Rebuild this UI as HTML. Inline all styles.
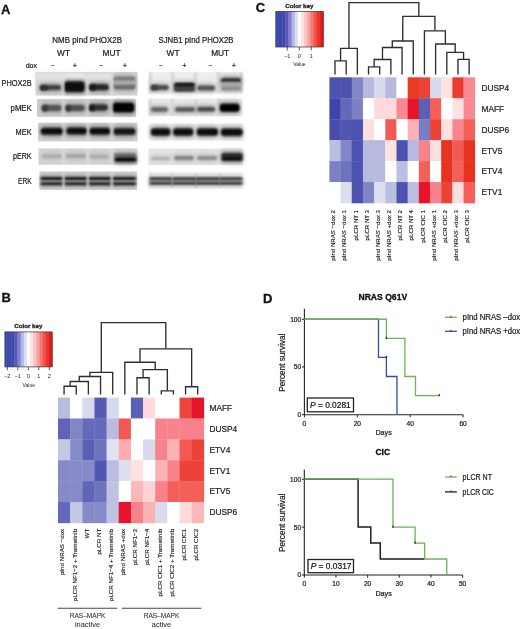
<!DOCTYPE html>
<html><head><meta charset="utf-8"><title>Figure</title>
<style>html,body{margin:0;padding:0;background:#fff;width:520px;height:629px;overflow:hidden}</style>
</head><body>
<svg width="520" height="629" viewBox="0 0 520 629" style="position:absolute;left:0;top:0">
<defs><filter id="bl1" x="-50%" y="-50%" width="200%" height="200%"><feGaussianBlur stdDeviation="1.1"/></filter><filter id="bl2" x="-50%" y="-50%" width="200%" height="200%"><feGaussianBlur stdDeviation="0.6"/></filter><filter id="bl3" x="-50%" y="-50%" width="200%" height="200%"><feGaussianBlur stdDeviation="0.95"/></filter><filter id="bl4" x="-50%" y="-50%" width="200%" height="200%"><feGaussianBlur stdDeviation="2"/></filter></defs>
<rect width="520" height="629" fill="#fff"/>
<g font-family='"Liberation Sans", Arial, sans-serif'>
<text x="0.90" y="13.75" font-size="13" text-anchor="start" font-weight="bold" font-style="normal" fill="#111" stroke="#111" stroke-width="0.3" >A</text>
<text x="87.20" y="42.70" font-size="8.3" text-anchor="middle" font-weight="normal" font-style="normal" fill="#222" stroke="#222" stroke-width="0.22" textLength="69.7" lengthAdjust="spacingAndGlyphs">NMB pInd PHOX2B</text>
<text x="63.50" y="55.80" font-size="8.3" text-anchor="middle" font-weight="normal" font-style="normal" fill="#222" stroke="#222" stroke-width="0.22" >WT</text>
<text x="111.50" y="55.80" font-size="8.3" text-anchor="middle" font-weight="normal" font-style="normal" fill="#222" stroke="#222" stroke-width="0.22" >MUT</text>
<text x="196.00" y="43.20" font-size="8.3" text-anchor="middle" font-weight="normal" font-style="normal" fill="#222" stroke="#222" stroke-width="0.22" textLength="75" lengthAdjust="spacingAndGlyphs">SJNB1 pInd PHOX2B</text>
<text x="173.00" y="56.10" font-size="8.3" text-anchor="middle" font-weight="normal" font-style="normal" fill="#222" stroke="#222" stroke-width="0.22" >WT</text>
<text x="220.20" y="56.10" font-size="8.3" text-anchor="middle" font-weight="normal" font-style="normal" fill="#222" stroke="#222" stroke-width="0.22" >MUT</text>
<text x="31.30" y="68.00" font-size="7.0" text-anchor="middle" font-weight="normal" font-style="normal" fill="#222" stroke="#222" stroke-width="0.22" >dox</text>
<text x="52.90" y="68.30" font-size="6.5" text-anchor="middle" font-weight="normal" font-style="normal" fill="#222" stroke="#222" stroke-width="0.22" >−</text>
<text x="75.00" y="68.30" font-size="6.5" text-anchor="middle" font-weight="normal" font-style="normal" fill="#222" stroke="#222" stroke-width="0.22" >+</text>
<text x="101.30" y="68.30" font-size="6.5" text-anchor="middle" font-weight="normal" font-style="normal" fill="#222" stroke="#222" stroke-width="0.22" >−</text>
<text x="124.80" y="68.30" font-size="6.5" text-anchor="middle" font-weight="normal" font-style="normal" fill="#222" stroke="#222" stroke-width="0.22" >+</text>
<text x="161.10" y="68.30" font-size="6.5" text-anchor="middle" font-weight="normal" font-style="normal" fill="#222" stroke="#222" stroke-width="0.22" >−</text>
<text x="184.50" y="68.30" font-size="6.5" text-anchor="middle" font-weight="normal" font-style="normal" fill="#222" stroke="#222" stroke-width="0.22" >+</text>
<text x="210.60" y="68.30" font-size="6.5" text-anchor="middle" font-weight="normal" font-style="normal" fill="#222" stroke="#222" stroke-width="0.22" >−</text>
<text x="233.90" y="68.30" font-size="6.5" text-anchor="middle" font-weight="normal" font-style="normal" fill="#222" stroke="#222" stroke-width="0.22" >+</text>
<text x="31.60" y="86.20" font-size="8.3" text-anchor="end" font-weight="normal" font-style="normal" fill="#222" stroke="#222" stroke-width="0.22" textLength="30" lengthAdjust="spacingAndGlyphs">PHOX2B</text>
<text x="31.60" y="111.00" font-size="8.3" text-anchor="end" font-weight="normal" font-style="normal" fill="#222" stroke="#222" stroke-width="0.22" textLength="21" lengthAdjust="spacingAndGlyphs">pMEK</text>
<text x="31.60" y="134.90" font-size="8.3" text-anchor="end" font-weight="normal" font-style="normal" fill="#222" stroke="#222" stroke-width="0.22" textLength="16" lengthAdjust="spacingAndGlyphs">MEK</text>
<text x="31.60" y="159.20" font-size="8.3" text-anchor="end" font-weight="normal" font-style="normal" fill="#222" stroke="#222" stroke-width="0.22" textLength="18.6" lengthAdjust="spacingAndGlyphs">pERK</text>
<text x="31.60" y="183.50" font-size="8.3" text-anchor="end" font-weight="normal" font-style="normal" fill="#222" stroke="#222" stroke-width="0.22" textLength="13.5" lengthAdjust="spacingAndGlyphs">ERK</text>
<rect x="35.5" y="72.0" width="102.0" height="23.5" fill="#d4d4d4"/>
<rect x="35.00" y="70.50" width="28.90" height="13.00" rx="3" fill="rgb(228,228,228)" fill-opacity="0.35" filter="url(#bl4)"/>
<rect x="35.50" y="73.00" width="27.90" height="8.00" rx="3.00" fill="rgb(228,228,228)" fill-opacity="0.8" filter="url(#bl1)"/>
<rect x="63.50" y="71.50" width="23.00" height="12.00" rx="3" fill="rgb(238,238,238)" fill-opacity="0.35" filter="url(#bl4)"/>
<rect x="64.00" y="74.00" width="22.00" height="7.00" rx="3.00" fill="rgb(238,238,238)" fill-opacity="0.9" filter="url(#bl1)"/>
<rect x="88.50" y="71.50" width="22.00" height="12.00" rx="3" fill="rgb(230,230,230)" fill-opacity="0.35" filter="url(#bl4)"/>
<rect x="89.00" y="74.00" width="21.00" height="7.00" rx="3.00" fill="rgb(230,230,230)" fill-opacity="0.8" filter="url(#bl1)"/>
<rect x="39.50" y="82.60" width="22.00" height="10.00" rx="3" fill="rgb(65,65,65)" fill-opacity="0.35" filter="url(#bl4)"/>
<rect x="40.00" y="85.10" width="21.00" height="5.00" rx="2.50" fill="rgb(65,65,65)" fill-opacity="1.0" filter="url(#bl3)"/>
<rect x="40.00" y="85.30" width="8.00" height="5.20" rx="2.60" fill="rgb(45,45,45)" fill-opacity="1.0" filter="url(#bl3)"/>
<rect x="64.00" y="79.05" width="21.00" height="15.50" rx="3" fill="rgb(8,8,8)" fill-opacity="0.35" filter="url(#bl4)"/>
<rect x="64.50" y="81.55" width="20.00" height="10.50" rx="3.00" fill="rgb(8,8,8)" fill-opacity="1.0" filter="url(#bl3)"/>
<rect x="88.50" y="81.70" width="20.80" height="11.00" rx="3" fill="rgb(40,40,40)" fill-opacity="0.35" filter="url(#bl4)"/>
<rect x="89.00" y="84.20" width="19.80" height="6.00" rx="3.00" fill="rgb(40,40,40)" fill-opacity="1.0" filter="url(#bl3)"/>
<rect x="89.00" y="84.40" width="7.00" height="6.20" rx="3.00" fill="rgb(28,28,28)" fill-opacity="1.0" filter="url(#bl3)"/>
<rect x="113.10" y="74.25" width="22.70" height="9.50" rx="3" fill="rgb(115,115,115)" fill-opacity="0.35" filter="url(#bl4)"/>
<rect x="113.60" y="76.75" width="21.70" height="4.50" rx="2.25" fill="rgb(115,115,115)" fill-opacity="1.0" filter="url(#bl3)"/>
<rect x="113.10" y="81.25" width="22.70" height="10.50" rx="3" fill="rgb(100,100,100)" fill-opacity="0.35" filter="url(#bl4)"/>
<rect x="113.60" y="83.75" width="21.70" height="5.50" rx="2.75" fill="rgb(100,100,100)" fill-opacity="1.0" filter="url(#bl3)"/>
<rect x="113.50" y="78.70" width="22.00" height="8.00" rx="3" fill="rgb(170,170,170)" fill-opacity="0.35" filter="url(#bl4)"/>
<rect x="114.00" y="81.20" width="21.00" height="3.00" rx="1.50" fill="rgb(170,170,170)" fill-opacity="1.0" filter="url(#bl1)"/>
<rect x="37.0" y="99.0" width="99.0" height="17.799999999999997" fill="#cecece"/>
<rect x="41.40" y="102.60" width="20.60" height="11.00" rx="3" fill="rgb(85,85,85)" fill-opacity="0.35" filter="url(#bl4)"/>
<rect x="41.90" y="105.10" width="19.60" height="6.00" rx="3.00" fill="rgb(85,85,85)" fill-opacity="1.0" filter="url(#bl3)"/>
<rect x="41.90" y="105.05" width="6.10" height="6.50" rx="3.00" fill="rgb(55,55,55)" fill-opacity="1.0" filter="url(#bl3)"/>
<rect x="65.20" y="102.50" width="20.00" height="11.00" rx="3" fill="rgb(80,80,80)" fill-opacity="0.35" filter="url(#bl4)"/>
<rect x="65.70" y="105.00" width="19.00" height="6.00" rx="3.00" fill="rgb(80,80,80)" fill-opacity="1.0" filter="url(#bl3)"/>
<rect x="65.70" y="105.05" width="5.30" height="6.50" rx="3.00" fill="rgb(55,55,55)" fill-opacity="1.0" filter="url(#bl3)"/>
<rect x="88.50" y="102.10" width="19.80" height="11.00" rx="3" fill="rgb(45,45,45)" fill-opacity="0.35" filter="url(#bl4)"/>
<rect x="89.00" y="104.60" width="18.80" height="6.00" rx="3.00" fill="rgb(45,45,45)" fill-opacity="1.0" filter="url(#bl3)"/>
<rect x="89.00" y="104.65" width="6.00" height="6.50" rx="3.00" fill="rgb(30,30,30)" fill-opacity="1.0" filter="url(#bl3)"/>
<rect x="112.20" y="100.35" width="22.50" height="14.50" rx="3" fill="rgb(5,5,5)" fill-opacity="0.35" filter="url(#bl4)"/>
<rect x="112.70" y="102.85" width="21.50" height="9.50" rx="3.00" fill="rgb(5,5,5)" fill-opacity="1.0" filter="url(#bl3)"/>
<rect x="38.0" y="122.7" width="99.5" height="18.700000000000003" fill="#d3d3d3"/>
<rect x="40.40" y="125.45" width="23.30" height="11.50" rx="3" fill="rgb(15,15,15)" fill-opacity="0.35" filter="url(#bl4)"/>
<rect x="40.90" y="127.95" width="22.30" height="6.50" rx="3.00" fill="rgb(15,15,15)" fill-opacity="1.0" filter="url(#bl3)"/>
<rect x="66.00" y="125.25" width="21.30" height="11.50" rx="3" fill="rgb(10,10,10)" fill-opacity="0.35" filter="url(#bl4)"/>
<rect x="66.50" y="127.75" width="20.30" height="6.50" rx="3.00" fill="rgb(10,10,10)" fill-opacity="1.0" filter="url(#bl3)"/>
<rect x="89.00" y="125.55" width="21.50" height="11.50" rx="3" fill="rgb(15,15,15)" fill-opacity="0.35" filter="url(#bl4)"/>
<rect x="89.50" y="128.05" width="20.50" height="6.50" rx="3.00" fill="rgb(15,15,15)" fill-opacity="1.0" filter="url(#bl3)"/>
<rect x="113.00" y="125.75" width="23.00" height="11.50" rx="3" fill="rgb(20,20,20)" fill-opacity="0.35" filter="url(#bl4)"/>
<rect x="113.50" y="128.25" width="22.00" height="6.50" rx="3.00" fill="rgb(20,20,20)" fill-opacity="1.0" filter="url(#bl3)"/>
<rect x="38.5" y="148.4" width="99.0" height="16.400000000000006" fill="#d5d5d5"/>
<rect x="41.00" y="151.95" width="21.50" height="8.50" rx="3" fill="rgb(170,170,170)" fill-opacity="0.35" filter="url(#bl4)"/>
<rect x="41.50" y="154.45" width="20.50" height="3.50" rx="1.75" fill="rgb(170,170,170)" fill-opacity="1.0" filter="url(#bl3)"/>
<rect x="65.00" y="151.75" width="21.50" height="8.50" rx="3" fill="rgb(160,160,160)" fill-opacity="0.35" filter="url(#bl4)"/>
<rect x="65.50" y="154.25" width="20.50" height="3.50" rx="1.75" fill="rgb(160,160,160)" fill-opacity="1.0" filter="url(#bl3)"/>
<rect x="89.00" y="152.15" width="20.50" height="8.50" rx="3" fill="rgb(170,170,170)" fill-opacity="0.35" filter="url(#bl4)"/>
<rect x="89.50" y="154.65" width="19.50" height="3.50" rx="1.75" fill="rgb(170,170,170)" fill-opacity="1.0" filter="url(#bl3)"/>
<rect x="113.50" y="151.00" width="23.00" height="8.00" rx="3" fill="rgb(120,120,120)" fill-opacity="0.35" filter="url(#bl4)"/>
<rect x="114.00" y="153.50" width="22.00" height="3.00" rx="1.50" fill="rgb(120,120,120)" fill-opacity="1.0" filter="url(#bl3)"/>
<rect x="114.00" y="154.85" width="23.00" height="9.50" rx="3" fill="rgb(15,15,15)" fill-opacity="0.35" filter="url(#bl4)"/>
<rect x="114.50" y="157.35" width="22.00" height="4.50" rx="2.25" fill="rgb(15,15,15)" fill-opacity="1.0" filter="url(#bl3)"/>
<rect x="39.5" y="171.5" width="97.5" height="18.30000000000001" fill="#cfcfcf"/>
<rect x="40.00" y="174.50" width="23.50" height="8.00" rx="3" fill="rgb(20,20,20)" fill-opacity="0.2" filter="url(#bl4)"/>
<rect x="40.50" y="177.00" width="22.50" height="3.00" rx="1.50" fill="rgb(20,20,20)" fill-opacity="1.0" filter="url(#bl3)"/>
<rect x="40.00" y="179.70" width="23.50" height="8.00" rx="3" fill="rgb(30,30,30)" fill-opacity="0.2" filter="url(#bl4)"/>
<rect x="40.50" y="182.20" width="22.50" height="3.00" rx="1.50" fill="rgb(30,30,30)" fill-opacity="1.0" filter="url(#bl3)"/>
<rect x="64.00" y="174.50" width="23.50" height="8.00" rx="3" fill="rgb(20,20,20)" fill-opacity="0.2" filter="url(#bl4)"/>
<rect x="64.50" y="177.00" width="22.50" height="3.00" rx="1.50" fill="rgb(20,20,20)" fill-opacity="1.0" filter="url(#bl3)"/>
<rect x="64.00" y="179.70" width="23.50" height="8.00" rx="3" fill="rgb(30,30,30)" fill-opacity="0.2" filter="url(#bl4)"/>
<rect x="64.50" y="182.20" width="22.50" height="3.00" rx="1.50" fill="rgb(30,30,30)" fill-opacity="1.0" filter="url(#bl3)"/>
<rect x="88.00" y="174.50" width="23.50" height="8.00" rx="3" fill="rgb(20,20,20)" fill-opacity="0.2" filter="url(#bl4)"/>
<rect x="88.50" y="177.00" width="22.50" height="3.00" rx="1.50" fill="rgb(20,20,20)" fill-opacity="1.0" filter="url(#bl3)"/>
<rect x="88.00" y="179.70" width="23.50" height="8.00" rx="3" fill="rgb(30,30,30)" fill-opacity="0.2" filter="url(#bl4)"/>
<rect x="88.50" y="182.20" width="22.50" height="3.00" rx="1.50" fill="rgb(30,30,30)" fill-opacity="1.0" filter="url(#bl3)"/>
<rect x="112.00" y="174.50" width="24.50" height="8.00" rx="3" fill="rgb(20,20,20)" fill-opacity="0.2" filter="url(#bl4)"/>
<rect x="112.50" y="177.00" width="23.50" height="3.00" rx="1.50" fill="rgb(20,20,20)" fill-opacity="1.0" filter="url(#bl3)"/>
<rect x="112.00" y="179.70" width="24.50" height="8.00" rx="3" fill="rgb(30,30,30)" fill-opacity="0.2" filter="url(#bl4)"/>
<rect x="112.50" y="182.20" width="23.50" height="3.00" rx="1.50" fill="rgb(30,30,30)" fill-opacity="1.0" filter="url(#bl3)"/>
<rect x="62.65" y="72.00" width="1.50" height="24.00" fill="rgb(240,240,240)" fill-opacity="0.6" filter="url(#bl1)"/>
<rect x="62.65" y="99.00" width="1.50" height="18.00" fill="rgb(240,240,240)" fill-opacity="0.5" filter="url(#bl1)"/>
<rect x="62.65" y="123.00" width="1.50" height="18.00" fill="rgb(235,235,235)" fill-opacity="0.6" filter="url(#bl1)"/>
<rect x="62.65" y="148.50" width="1.50" height="16.00" fill="rgb(240,240,240)" fill-opacity="0.5" filter="url(#bl1)"/>
<rect x="62.65" y="172.00" width="1.50" height="17.50" fill="rgb(235,235,235)" fill-opacity="0.6" filter="url(#bl1)"/>
<rect x="87.05" y="72.00" width="1.50" height="24.00" fill="rgb(240,240,240)" fill-opacity="0.6" filter="url(#bl1)"/>
<rect x="87.05" y="99.00" width="1.50" height="18.00" fill="rgb(240,240,240)" fill-opacity="0.5" filter="url(#bl1)"/>
<rect x="87.05" y="123.00" width="1.50" height="18.00" fill="rgb(235,235,235)" fill-opacity="0.6" filter="url(#bl1)"/>
<rect x="87.05" y="148.50" width="1.50" height="16.00" fill="rgb(240,240,240)" fill-opacity="0.5" filter="url(#bl1)"/>
<rect x="87.05" y="172.00" width="1.50" height="17.50" fill="rgb(235,235,235)" fill-opacity="0.6" filter="url(#bl1)"/>
<rect x="111.05" y="72.00" width="1.50" height="24.00" fill="rgb(240,240,240)" fill-opacity="0.6" filter="url(#bl1)"/>
<rect x="111.05" y="99.00" width="1.50" height="18.00" fill="rgb(240,240,240)" fill-opacity="0.5" filter="url(#bl1)"/>
<rect x="111.05" y="123.00" width="1.50" height="18.00" fill="rgb(235,235,235)" fill-opacity="0.6" filter="url(#bl1)"/>
<rect x="111.05" y="148.50" width="1.50" height="16.00" fill="rgb(240,240,240)" fill-opacity="0.5" filter="url(#bl1)"/>
<rect x="111.05" y="172.00" width="1.50" height="17.50" fill="rgb(235,235,235)" fill-opacity="0.6" filter="url(#bl1)"/>
<rect x="148.5" y="72.0" width="94.0" height="21.5" fill="#eeeeee"/>
<rect x="149.00" y="72.00" width="3.00" height="21.00" fill="rgb(185,185,185)" fill-opacity="0.45" filter="url(#bl1)"/>
<rect x="171.00" y="72.00" width="3.00" height="21.00" fill="rgb(185,185,185)" fill-opacity="0.45" filter="url(#bl1)"/>
<rect x="194.00" y="72.00" width="3.00" height="21.00" fill="rgb(185,185,185)" fill-opacity="0.45" filter="url(#bl1)"/>
<rect x="217.00" y="72.00" width="3.00" height="21.00" fill="rgb(185,185,185)" fill-opacity="0.45" filter="url(#bl1)"/>
<rect x="240.00" y="72.00" width="3.00" height="21.00" fill="rgb(185,185,185)" fill-opacity="0.45" filter="url(#bl1)"/>
<rect x="150.30" y="82.50" width="19.00" height="10.00" rx="3" fill="rgb(80,80,80)" fill-opacity="0.35" filter="url(#bl4)"/>
<rect x="150.80" y="85.00" width="18.00" height="5.00" rx="2.50" fill="rgb(80,80,80)" fill-opacity="1.0" filter="url(#bl3)"/>
<rect x="151.00" y="85.10" width="7.00" height="5.20" rx="2.60" fill="rgb(62,62,62)" fill-opacity="1.0" filter="url(#bl3)"/>
<rect x="173.60" y="80.80" width="21.60" height="13.00" rx="3" fill="rgb(70,70,70)" fill-opacity="0.35" filter="url(#bl4)"/>
<rect x="174.10" y="83.30" width="20.60" height="8.00" rx="3.00" fill="rgb(70,70,70)" fill-opacity="1.0" filter="url(#bl3)"/>
<rect x="174.10" y="83.05" width="20.60" height="3.50" rx="1.75" fill="rgb(25,25,25)" fill-opacity="1.0" filter="url(#bl3)"/>
<rect x="174.10" y="88.10" width="20.60" height="3.00" rx="1.50" fill="rgb(60,60,60)" fill-opacity="1.0" filter="url(#bl3)"/>
<rect x="196.60" y="83.00" width="19.00" height="10.00" rx="3" fill="rgb(85,85,85)" fill-opacity="0.35" filter="url(#bl4)"/>
<rect x="197.10" y="85.50" width="18.00" height="5.00" rx="2.50" fill="rgb(85,85,85)" fill-opacity="1.0" filter="url(#bl3)"/>
<rect x="220.40" y="75.85" width="21.10" height="9.50" rx="3" fill="rgb(30,30,30)" fill-opacity="0.35" filter="url(#bl4)"/>
<rect x="220.90" y="78.35" width="20.10" height="4.50" rx="2.25" fill="rgb(30,30,30)" fill-opacity="1.0" filter="url(#bl3)"/>
<rect x="220.40" y="83.30" width="21.10" height="10.00" rx="3" fill="rgb(140,140,140)" fill-opacity="0.35" filter="url(#bl4)"/>
<rect x="220.90" y="85.80" width="20.10" height="5.00" rx="2.50" fill="rgb(140,140,140)" fill-opacity="1.0" filter="url(#bl3)"/>
<rect x="220.50" y="80.30" width="21.00" height="8.00" rx="3" fill="rgb(165,165,165)" fill-opacity="0.35" filter="url(#bl4)"/>
<rect x="221.00" y="82.80" width="20.00" height="3.00" rx="1.50" fill="rgb(165,165,165)" fill-opacity="1.0" filter="url(#bl1)"/>
<rect x="148.5" y="98.5" width="94.0" height="17.5" fill="#e9e9e9"/>
<rect x="149.00" y="98.50" width="3.00" height="17.50" fill="rgb(195,195,195)" fill-opacity="0.45" filter="url(#bl1)"/>
<rect x="171.00" y="98.50" width="3.00" height="17.50" fill="rgb(195,195,195)" fill-opacity="0.45" filter="url(#bl1)"/>
<rect x="194.50" y="98.50" width="3.00" height="17.50" fill="rgb(195,195,195)" fill-opacity="0.45" filter="url(#bl1)"/>
<rect x="217.50" y="98.50" width="3.00" height="17.50" fill="rgb(195,195,195)" fill-opacity="0.45" filter="url(#bl1)"/>
<rect x="150.50" y="104.65" width="18.00" height="9.50" rx="3" fill="rgb(100,100,100)" fill-opacity="0.35" filter="url(#bl4)"/>
<rect x="151.00" y="107.15" width="17.00" height="4.50" rx="2.25" fill="rgb(100,100,100)" fill-opacity="1.0" filter="url(#bl3)"/>
<rect x="174.50" y="104.85" width="21.00" height="9.50" rx="3" fill="rgb(90,90,90)" fill-opacity="0.35" filter="url(#bl4)"/>
<rect x="175.00" y="107.35" width="20.00" height="4.50" rx="2.25" fill="rgb(90,90,90)" fill-opacity="1.0" filter="url(#bl3)"/>
<rect x="196.60" y="104.45" width="19.00" height="9.50" rx="3" fill="rgb(75,75,75)" fill-opacity="0.35" filter="url(#bl4)"/>
<rect x="197.10" y="106.95" width="18.00" height="4.50" rx="2.25" fill="rgb(75,75,75)" fill-opacity="1.0" filter="url(#bl3)"/>
<rect x="219.30" y="101.30" width="20.70" height="13.00" rx="3" fill="rgb(5,5,5)" fill-opacity="0.35" filter="url(#bl4)"/>
<rect x="219.80" y="103.80" width="19.70" height="8.00" rx="3.00" fill="rgb(5,5,5)" fill-opacity="1.0" filter="url(#bl3)"/>
<rect x="148.5" y="123.5" width="94.5" height="17.0" fill="#efefef"/>
<rect x="150.40" y="126.00" width="20.40" height="12.00" rx="3" fill="rgb(8,8,8)" fill-opacity="0.35" filter="url(#bl4)"/>
<rect x="150.90" y="128.50" width="19.40" height="7.00" rx="3.00" fill="rgb(8,8,8)" fill-opacity="1.0" filter="url(#bl3)"/>
<rect x="172.70" y="126.00" width="21.00" height="12.00" rx="3" fill="rgb(10,10,10)" fill-opacity="0.35" filter="url(#bl4)"/>
<rect x="173.20" y="128.50" width="20.00" height="7.00" rx="3.00" fill="rgb(10,10,10)" fill-opacity="1.0" filter="url(#bl3)"/>
<rect x="196.30" y="126.00" width="22.20" height="12.00" rx="3" fill="rgb(8,8,8)" fill-opacity="0.35" filter="url(#bl4)"/>
<rect x="196.80" y="128.50" width="21.20" height="7.00" rx="3.00" fill="rgb(8,8,8)" fill-opacity="1.0" filter="url(#bl3)"/>
<rect x="220.40" y="126.30" width="22.70" height="12.00" rx="3" fill="rgb(12,12,12)" fill-opacity="0.35" filter="url(#bl4)"/>
<rect x="220.90" y="128.80" width="21.70" height="7.00" rx="3.00" fill="rgb(12,12,12)" fill-opacity="1.0" filter="url(#bl3)"/>
<rect x="148.5" y="148.5" width="94.5" height="16.5" fill="#e4e4e4"/>
<rect x="150.50" y="154.60" width="20.00" height="8.00" rx="3" fill="rgb(175,175,175)" fill-opacity="0.35" filter="url(#bl4)"/>
<rect x="151.00" y="157.10" width="19.00" height="3.00" rx="1.50" fill="rgb(175,175,175)" fill-opacity="1.0" filter="url(#bl3)"/>
<rect x="173.50" y="153.75" width="21.00" height="8.50" rx="3" fill="rgb(125,125,125)" fill-opacity="0.35" filter="url(#bl4)"/>
<rect x="174.00" y="156.25" width="20.00" height="3.50" rx="1.75" fill="rgb(125,125,125)" fill-opacity="1.0" filter="url(#bl3)"/>
<rect x="196.50" y="153.75" width="21.00" height="8.50" rx="3" fill="rgb(135,135,135)" fill-opacity="0.35" filter="url(#bl4)"/>
<rect x="197.00" y="156.25" width="20.00" height="3.50" rx="1.75" fill="rgb(135,135,135)" fill-opacity="1.0" filter="url(#bl3)"/>
<rect x="221.00" y="150.75" width="22.10" height="8.50" rx="3" fill="rgb(45,45,45)" fill-opacity="0.35" filter="url(#bl4)"/>
<rect x="221.50" y="153.25" width="21.10" height="3.50" rx="1.75" fill="rgb(45,45,45)" fill-opacity="1.0" filter="url(#bl3)"/>
<rect x="221.00" y="153.75" width="22.10" height="9.50" rx="3" fill="rgb(10,10,10)" fill-opacity="0.35" filter="url(#bl4)"/>
<rect x="221.50" y="156.25" width="21.10" height="4.50" rx="2.25" fill="rgb(10,10,10)" fill-opacity="1.0" filter="url(#bl3)"/>
<rect x="148.5" y="172.5" width="94.5" height="15.5" fill="#f2f2f2"/>
<rect x="149.25" y="172.50" width="2.50" height="15.50" fill="rgb(205,205,205)" fill-opacity="0.4" filter="url(#bl1)"/>
<rect x="171.25" y="172.50" width="2.50" height="15.50" fill="rgb(205,205,205)" fill-opacity="0.4" filter="url(#bl1)"/>
<rect x="194.75" y="172.50" width="2.50" height="15.50" fill="rgb(205,205,205)" fill-opacity="0.4" filter="url(#bl1)"/>
<rect x="218.25" y="172.50" width="2.50" height="15.50" fill="rgb(205,205,205)" fill-opacity="0.4" filter="url(#bl1)"/>
<rect x="149.00" y="175.10" width="23.50" height="7.60" rx="3" fill="rgb(45,45,45)" fill-opacity="0.25" filter="url(#bl4)"/>
<rect x="149.50" y="177.60" width="22.50" height="2.60" rx="1.30" fill="rgb(45,45,45)" fill-opacity="1.0" filter="url(#bl3)"/>
<rect x="149.00" y="179.40" width="23.50" height="7.60" rx="3" fill="rgb(40,40,40)" fill-opacity="0.25" filter="url(#bl4)"/>
<rect x="149.50" y="181.90" width="22.50" height="2.60" rx="1.30" fill="rgb(40,40,40)" fill-opacity="1.0" filter="url(#bl3)"/>
<rect x="172.00" y="175.10" width="24.50" height="7.60" rx="3" fill="rgb(45,45,45)" fill-opacity="0.25" filter="url(#bl4)"/>
<rect x="172.50" y="177.60" width="23.50" height="2.60" rx="1.30" fill="rgb(45,45,45)" fill-opacity="1.0" filter="url(#bl3)"/>
<rect x="172.00" y="179.40" width="24.50" height="7.60" rx="3" fill="rgb(40,40,40)" fill-opacity="0.25" filter="url(#bl4)"/>
<rect x="172.50" y="181.90" width="23.50" height="2.60" rx="1.30" fill="rgb(40,40,40)" fill-opacity="1.0" filter="url(#bl3)"/>
<rect x="195.50" y="175.10" width="24.50" height="7.60" rx="3" fill="rgb(45,45,45)" fill-opacity="0.25" filter="url(#bl4)"/>
<rect x="196.00" y="177.60" width="23.50" height="2.60" rx="1.30" fill="rgb(45,45,45)" fill-opacity="1.0" filter="url(#bl3)"/>
<rect x="195.50" y="179.40" width="24.50" height="7.60" rx="3" fill="rgb(40,40,40)" fill-opacity="0.25" filter="url(#bl4)"/>
<rect x="196.00" y="181.90" width="23.50" height="2.60" rx="1.30" fill="rgb(40,40,40)" fill-opacity="1.0" filter="url(#bl3)"/>
<rect x="219.00" y="175.10" width="24.00" height="7.60" rx="3" fill="rgb(45,45,45)" fill-opacity="0.25" filter="url(#bl4)"/>
<rect x="219.50" y="177.60" width="23.00" height="2.60" rx="1.30" fill="rgb(45,45,45)" fill-opacity="1.0" filter="url(#bl3)"/>
<rect x="219.00" y="179.40" width="24.00" height="7.60" rx="3" fill="rgb(40,40,40)" fill-opacity="0.25" filter="url(#bl4)"/>
<rect x="219.50" y="181.90" width="23.00" height="2.60" rx="1.30" fill="rgb(40,40,40)" fill-opacity="1.0" filter="url(#bl3)"/>
<text x="255.80" y="12.30" font-size="13" text-anchor="start" font-weight="bold" font-style="normal" fill="#111" stroke="#111" stroke-width="0.3" >C</text>
<text x="299.30" y="7.70" font-size="6.2" text-anchor="middle" font-weight="bold" font-style="normal" fill="#222" stroke="#222" stroke-width="0.3" >Color key</text>
<rect x="275.80" y="11.50" width="3.56" height="35.50" fill="rgb(55, 80, 178)"/>
<rect x="278.96" y="11.50" width="3.56" height="35.50" fill="rgb(58, 74, 172)"/>
<rect x="282.12" y="11.50" width="3.56" height="35.50" fill="rgb(68, 72, 172)"/>
<rect x="285.28" y="11.50" width="3.56" height="35.50" fill="rgb(90, 88, 185)"/>
<rect x="288.44" y="11.50" width="3.56" height="35.50" fill="rgb(130, 130, 210)"/>
<rect x="291.60" y="11.50" width="3.56" height="35.50" fill="rgb(180, 182, 228)"/>
<rect x="294.76" y="11.50" width="3.56" height="35.50" fill="rgb(222, 222, 242)"/>
<rect x="297.92" y="11.50" width="3.56" height="35.50" fill="rgb(255, 255, 255)"/>
<rect x="301.08" y="11.50" width="3.56" height="35.50" fill="rgb(255, 225, 225)"/>
<rect x="304.24" y="11.50" width="3.56" height="35.50" fill="rgb(252, 195, 195)"/>
<rect x="307.40" y="11.50" width="3.56" height="35.50" fill="rgb(248, 160, 160)"/>
<rect x="310.56" y="11.50" width="3.56" height="35.50" fill="rgb(244, 120, 118)"/>
<rect x="313.72" y="11.50" width="3.56" height="35.50" fill="rgb(240, 85, 75)"/>
<rect x="316.88" y="11.50" width="3.56" height="35.50" fill="rgb(235, 52, 44)"/>
<rect x="320.04" y="11.50" width="3.56" height="35.50" fill="rgb(230, 25, 32)"/>
<rect x="275.80" y="11.50" width="47.40" height="35.50" fill="none" stroke="#333" stroke-width="0.7"/>
<line x1="287.30" y1="47.00" x2="287.30" y2="50.50" stroke="#333" stroke-width="0.8"/>
<text x="287.30" y="58.30" font-size="5.5" text-anchor="middle" font-weight="normal" font-style="normal" fill="#222" stroke="#222" stroke-width="0.0" >−1</text>
<line x1="299.30" y1="47.00" x2="299.30" y2="50.50" stroke="#333" stroke-width="0.8"/>
<text x="299.30" y="58.30" font-size="5.5" text-anchor="middle" font-weight="normal" font-style="normal" fill="#222" stroke="#222" stroke-width="0.0" >0</text>
<line x1="311.30" y1="47.00" x2="311.30" y2="50.50" stroke="#333" stroke-width="0.8"/>
<text x="311.30" y="58.30" font-size="5.5" text-anchor="middle" font-weight="normal" font-style="normal" fill="#222" stroke="#222" stroke-width="0.0" >1</text>
<text x="299.40" y="65.80" font-size="5.0" text-anchor="middle" font-weight="normal" font-style="normal" fill="#222" stroke="#222" stroke-width="0.0" >Value</text>
<rect x="329.40" y="77.30" width="11.48" height="21.25" fill="#4c52af"/>
<rect x="340.58" y="77.30" width="11.48" height="21.25" fill="#4c52af"/>
<rect x="351.76" y="77.30" width="11.48" height="21.25" fill="#8285c6"/>
<rect x="362.94" y="77.30" width="11.48" height="21.25" fill="#b7b9de"/>
<rect x="374.12" y="77.30" width="11.48" height="21.25" fill="#d8daee"/>
<rect x="385.30" y="77.30" width="11.48" height="21.25" fill="#b7b9de"/>
<rect x="396.48" y="77.30" width="11.48" height="21.25" fill="#ffffff"/>
<rect x="407.66" y="77.30" width="11.48" height="21.25" fill="#eb3a26"/>
<rect x="418.84" y="77.30" width="11.48" height="21.25" fill="#ec4238"/>
<rect x="430.02" y="77.30" width="11.48" height="21.25" fill="#d8daee"/>
<rect x="441.20" y="77.30" width="11.48" height="21.25" fill="#ffe1e1"/>
<rect x="452.38" y="77.30" width="11.48" height="21.25" fill="#ea3c31"/>
<rect x="463.56" y="77.30" width="11.48" height="21.25" fill="#f88992"/>
<rect x="329.40" y="98.25" width="11.48" height="21.25" fill="#3e44a8"/>
<rect x="340.58" y="98.25" width="11.48" height="21.25" fill="#6569b9"/>
<rect x="351.76" y="98.25" width="11.48" height="21.25" fill="#7d81c4"/>
<rect x="362.94" y="98.25" width="11.48" height="21.25" fill="#ffffff"/>
<rect x="374.12" y="98.25" width="11.48" height="21.25" fill="#fedada"/>
<rect x="385.30" y="98.25" width="11.48" height="21.25" fill="#fedada"/>
<rect x="396.48" y="98.25" width="11.48" height="21.25" fill="#f88992"/>
<rect x="407.66" y="98.25" width="11.48" height="21.25" fill="#e61428"/>
<rect x="418.84" y="98.25" width="11.48" height="21.25" fill="#5b60b5"/>
<rect x="430.02" y="98.25" width="11.48" height="21.25" fill="#f45f58"/>
<rect x="441.20" y="98.25" width="11.48" height="21.25" fill="#ffffff"/>
<rect x="452.38" y="98.25" width="11.48" height="21.25" fill="#ffe1e1"/>
<rect x="463.56" y="98.25" width="11.48" height="21.25" fill="#f88992"/>
<rect x="329.40" y="119.20" width="11.48" height="21.25" fill="#484dac"/>
<rect x="340.58" y="119.20" width="11.48" height="21.25" fill="#5157b1"/>
<rect x="351.76" y="119.20" width="11.48" height="21.25" fill="#4c52af"/>
<rect x="362.94" y="119.20" width="11.48" height="21.25" fill="#ffdede"/>
<rect x="374.12" y="119.20" width="11.48" height="21.25" fill="#ffffff"/>
<rect x="385.30" y="119.20" width="11.48" height="21.25" fill="#f25952"/>
<rect x="396.48" y="119.20" width="11.48" height="21.25" fill="#ffffff"/>
<rect x="407.66" y="119.20" width="11.48" height="21.25" fill="#fbb2b4"/>
<rect x="418.84" y="119.20" width="11.48" height="21.25" fill="#787cc2"/>
<rect x="430.02" y="119.20" width="11.48" height="21.25" fill="#ec4238"/>
<rect x="441.20" y="119.20" width="11.48" height="21.25" fill="#ffe1e1"/>
<rect x="452.38" y="119.20" width="11.48" height="21.25" fill="#f7858e"/>
<rect x="463.56" y="119.20" width="11.48" height="21.25" fill="#f45f58"/>
<rect x="329.40" y="140.15" width="11.48" height="21.25" fill="#bbbee1"/>
<rect x="340.58" y="140.15" width="11.48" height="21.25" fill="#8285c6"/>
<rect x="351.76" y="140.15" width="11.48" height="21.25" fill="#4c52af"/>
<rect x="362.94" y="140.15" width="11.48" height="21.25" fill="#b7b9de"/>
<rect x="374.12" y="140.15" width="11.48" height="21.25" fill="#b7b9de"/>
<rect x="385.30" y="140.15" width="11.48" height="21.25" fill="#ffe1e1"/>
<rect x="396.48" y="140.15" width="11.48" height="21.25" fill="#4c52af"/>
<rect x="407.66" y="140.15" width="11.48" height="21.25" fill="#b7b9de"/>
<rect x="418.84" y="140.15" width="11.48" height="21.25" fill="#f7828c"/>
<rect x="430.02" y="140.15" width="11.48" height="21.25" fill="#ffdede"/>
<rect x="441.20" y="140.15" width="11.48" height="21.25" fill="#e6321e"/>
<rect x="452.38" y="140.15" width="11.48" height="21.25" fill="#f25952"/>
<rect x="463.56" y="140.15" width="11.48" height="21.25" fill="#e6321e"/>
<rect x="329.40" y="161.10" width="11.48" height="21.25" fill="#7d81c4"/>
<rect x="340.58" y="161.10" width="11.48" height="21.25" fill="#6e73be"/>
<rect x="351.76" y="161.10" width="11.48" height="21.25" fill="#4c52af"/>
<rect x="362.94" y="161.10" width="11.48" height="21.25" fill="#b7b9de"/>
<rect x="374.12" y="161.10" width="11.48" height="21.25" fill="#b7b9de"/>
<rect x="385.30" y="161.10" width="11.48" height="21.25" fill="#ffffff"/>
<rect x="396.48" y="161.10" width="11.48" height="21.25" fill="#bbbee1"/>
<rect x="407.66" y="161.10" width="11.48" height="21.25" fill="#ffffff"/>
<rect x="418.84" y="161.10" width="11.48" height="21.25" fill="#f45f58"/>
<rect x="430.02" y="161.10" width="11.48" height="21.25" fill="#ffffff"/>
<rect x="441.20" y="161.10" width="11.48" height="21.25" fill="#e6321e"/>
<rect x="452.38" y="161.10" width="11.48" height="21.25" fill="#f45f58"/>
<rect x="463.56" y="161.10" width="11.48" height="21.25" fill="#e6321e"/>
<rect x="329.40" y="182.05" width="11.48" height="21.25" fill="#ffffff"/>
<rect x="340.58" y="182.05" width="11.48" height="21.25" fill="#dddef0"/>
<rect x="351.76" y="182.05" width="11.48" height="21.25" fill="#4c52af"/>
<rect x="362.94" y="182.05" width="11.48" height="21.25" fill="#8285c6"/>
<rect x="374.12" y="182.05" width="11.48" height="21.25" fill="#dddef0"/>
<rect x="385.30" y="182.05" width="11.48" height="21.25" fill="#bbbee1"/>
<rect x="396.48" y="182.05" width="11.48" height="21.25" fill="#4c52af"/>
<rect x="407.66" y="182.05" width="11.48" height="21.25" fill="#bbbee1"/>
<rect x="418.84" y="182.05" width="11.48" height="21.25" fill="#e61428"/>
<rect x="430.02" y="182.05" width="11.48" height="21.25" fill="#f7828c"/>
<rect x="441.20" y="182.05" width="11.48" height="21.25" fill="#ec4238"/>
<rect x="452.38" y="182.05" width="11.48" height="21.25" fill="#ffdede"/>
<rect x="463.56" y="182.05" width="11.48" height="21.25" fill="#f45f58"/>
<polyline points="334.99,74.60 334.99,60.80 346.17,60.80 346.17,74.60" fill="none" stroke="#2e2e2e" stroke-width="1.35" stroke-linejoin="miter"/>
<polyline points="340.58,60.80 340.58,48.30 357.35,48.30 357.35,74.60" fill="none" stroke="#2e2e2e" stroke-width="1.35" stroke-linejoin="miter"/>
<polyline points="368.53,74.60 368.53,66.90 379.71,66.90 379.71,74.60" fill="none" stroke="#2e2e2e" stroke-width="1.35" stroke-linejoin="miter"/>
<polyline points="374.12,66.90 374.12,59.50 390.89,59.50 390.89,74.60" fill="none" stroke="#2e2e2e" stroke-width="1.35" stroke-linejoin="miter"/>
<polyline points="382.50,59.50 382.50,47.50 402.07,47.50 402.07,74.60" fill="none" stroke="#2e2e2e" stroke-width="1.35" stroke-linejoin="miter"/>
<polyline points="392.29,47.50 392.29,41.00 413.25,41.00 413.25,74.60" fill="none" stroke="#2e2e2e" stroke-width="1.35" stroke-linejoin="miter"/>
<polyline points="457.97,74.60 457.97,59.40 469.15,59.40 469.15,74.60" fill="none" stroke="#2e2e2e" stroke-width="1.35" stroke-linejoin="miter"/>
<polyline points="446.79,74.60 446.79,52.30 463.56,52.30 463.56,59.40" fill="none" stroke="#2e2e2e" stroke-width="1.35" stroke-linejoin="miter"/>
<polyline points="435.61,74.60 435.61,44.00 455.17,44.00 455.17,52.30" fill="none" stroke="#2e2e2e" stroke-width="1.35" stroke-linejoin="miter"/>
<polyline points="424.43,74.60 424.43,30.80 445.39,30.80 445.39,44.00" fill="none" stroke="#2e2e2e" stroke-width="1.35" stroke-linejoin="miter"/>
<polyline points="402.77,41.00 402.77,16.40 434.91,16.40 434.91,30.80" fill="none" stroke="#2e2e2e" stroke-width="1.35" stroke-linejoin="miter"/>
<polyline points="348.96,48.30 348.96,2.60 418.84,2.60 418.84,16.40" fill="none" stroke="#2e2e2e" stroke-width="1.35" stroke-linejoin="miter"/>
<text x="481.50" y="90.67" font-size="8.3" text-anchor="start" font-weight="normal" font-style="normal" fill="#222" stroke="#222" stroke-width="0.22" >DUSP4</text>
<text x="481.50" y="111.62" font-size="8.3" text-anchor="start" font-weight="normal" font-style="normal" fill="#222" stroke="#222" stroke-width="0.22" >MAFF</text>
<text x="481.50" y="132.58" font-size="8.3" text-anchor="start" font-weight="normal" font-style="normal" fill="#222" stroke="#222" stroke-width="0.22" >DUSP6</text>
<text x="481.50" y="153.53" font-size="8.3" text-anchor="start" font-weight="normal" font-style="normal" fill="#222" stroke="#222" stroke-width="0.22" >ETV5</text>
<text x="481.50" y="174.47" font-size="8.3" text-anchor="start" font-weight="normal" font-style="normal" fill="#222" stroke="#222" stroke-width="0.22" >ETV4</text>
<text x="481.50" y="195.42" font-size="8.3" text-anchor="start" font-weight="normal" font-style="normal" fill="#222" stroke="#222" stroke-width="0.22" >ETV1</text>
<text x="335.19" y="210.00" font-size="6.1" text-anchor="end" font-weight="normal" font-style="normal" fill="#222" stroke="#222" stroke-width="0.14" transform="rotate(-90 335.19 210.00)" >pInd NRAS −dox 2</text>
<text x="346.37" y="210.00" font-size="6.1" text-anchor="end" font-weight="normal" font-style="normal" fill="#222" stroke="#222" stroke-width="0.14" transform="rotate(-90 346.37 210.00)" >pInd NRAS −dox 1</text>
<text x="357.55" y="210.00" font-size="6.1" text-anchor="end" font-weight="normal" font-style="normal" fill="#222" stroke="#222" stroke-width="0.14" transform="rotate(-90 357.55 210.00)" >pLCR NT 1</text>
<text x="368.73" y="210.00" font-size="6.1" text-anchor="end" font-weight="normal" font-style="normal" fill="#222" stroke="#222" stroke-width="0.14" transform="rotate(-90 368.73 210.00)" >pLCR NT 3</text>
<text x="379.91" y="210.00" font-size="6.1" text-anchor="end" font-weight="normal" font-style="normal" fill="#222" stroke="#222" stroke-width="0.14" transform="rotate(-90 379.91 210.00)" >pInd NRAS −dox 3</text>
<text x="391.09" y="210.00" font-size="6.1" text-anchor="end" font-weight="normal" font-style="normal" fill="#222" stroke="#222" stroke-width="0.14" transform="rotate(-90 391.09 210.00)" >pInd NRAS +dox 2</text>
<text x="402.27" y="210.00" font-size="6.1" text-anchor="end" font-weight="normal" font-style="normal" fill="#222" stroke="#222" stroke-width="0.14" transform="rotate(-90 402.27 210.00)" >pLCR NT 2</text>
<text x="413.45" y="210.00" font-size="6.1" text-anchor="end" font-weight="normal" font-style="normal" fill="#222" stroke="#222" stroke-width="0.14" transform="rotate(-90 413.45 210.00)" >pLCR NT 4</text>
<text x="424.63" y="210.00" font-size="6.1" text-anchor="end" font-weight="normal" font-style="normal" fill="#222" stroke="#222" stroke-width="0.14" transform="rotate(-90 424.63 210.00)" >pLCR CIC 1</text>
<text x="435.81" y="210.00" font-size="6.1" text-anchor="end" font-weight="normal" font-style="normal" fill="#222" stroke="#222" stroke-width="0.14" transform="rotate(-90 435.81 210.00)" >pInd NRAS +dox 1</text>
<text x="446.99" y="210.00" font-size="6.1" text-anchor="end" font-weight="normal" font-style="normal" fill="#222" stroke="#222" stroke-width="0.14" transform="rotate(-90 446.99 210.00)" >pLCR CIC 2</text>
<text x="458.17" y="210.00" font-size="6.1" text-anchor="end" font-weight="normal" font-style="normal" fill="#222" stroke="#222" stroke-width="0.14" transform="rotate(-90 458.17 210.00)" >pInd NRAS +dox 3</text>
<text x="469.35" y="210.00" font-size="6.1" text-anchor="end" font-weight="normal" font-style="normal" fill="#222" stroke="#222" stroke-width="0.14" transform="rotate(-90 469.35 210.00)" >pLCR CIC 3</text>
<text x="1.60" y="301.90" font-size="13" text-anchor="start" font-weight="bold" font-style="normal" fill="#111" stroke="#111" stroke-width="0.3" >B</text>
<text x="28.30" y="328.20" font-size="6.2" text-anchor="middle" font-weight="bold" font-style="normal" fill="#222" stroke="#222" stroke-width="0.3" >Color key</text>
<rect x="4.90" y="331.90" width="3.55" height="35.00" fill="rgb(55, 80, 178)"/>
<rect x="8.05" y="331.90" width="3.55" height="35.00" fill="rgb(58, 74, 172)"/>
<rect x="11.19" y="331.90" width="3.55" height="35.00" fill="rgb(68, 72, 172)"/>
<rect x="14.34" y="331.90" width="3.55" height="35.00" fill="rgb(90, 88, 185)"/>
<rect x="17.49" y="331.90" width="3.55" height="35.00" fill="rgb(130, 130, 210)"/>
<rect x="20.63" y="331.90" width="3.55" height="35.00" fill="rgb(180, 182, 228)"/>
<rect x="23.78" y="331.90" width="3.55" height="35.00" fill="rgb(222, 222, 242)"/>
<rect x="26.93" y="331.90" width="3.55" height="35.00" fill="rgb(255, 255, 255)"/>
<rect x="30.07" y="331.90" width="3.55" height="35.00" fill="rgb(255, 225, 225)"/>
<rect x="33.22" y="331.90" width="3.55" height="35.00" fill="rgb(252, 195, 195)"/>
<rect x="36.37" y="331.90" width="3.55" height="35.00" fill="rgb(248, 160, 160)"/>
<rect x="39.51" y="331.90" width="3.55" height="35.00" fill="rgb(244, 120, 118)"/>
<rect x="42.66" y="331.90" width="3.55" height="35.00" fill="rgb(240, 85, 75)"/>
<rect x="45.81" y="331.90" width="3.55" height="35.00" fill="rgb(235, 52, 44)"/>
<rect x="48.95" y="331.90" width="3.55" height="35.00" fill="rgb(230, 25, 32)"/>
<rect x="4.90" y="331.90" width="47.20" height="35.00" fill="none" stroke="#333" stroke-width="0.7"/>
<line x1="7.30" y1="366.90" x2="7.30" y2="370.30" stroke="#333" stroke-width="0.8"/>
<text x="7.30" y="378.40" font-size="5.5" text-anchor="middle" font-weight="normal" font-style="normal" fill="#222" stroke="#222" stroke-width="0.0" >−2</text>
<line x1="17.80" y1="366.90" x2="17.80" y2="370.30" stroke="#333" stroke-width="0.8"/>
<text x="17.80" y="378.40" font-size="5.5" text-anchor="middle" font-weight="normal" font-style="normal" fill="#222" stroke="#222" stroke-width="0.0" >−1</text>
<line x1="28.30" y1="366.90" x2="28.30" y2="370.30" stroke="#333" stroke-width="0.8"/>
<text x="28.30" y="378.40" font-size="5.5" text-anchor="middle" font-weight="normal" font-style="normal" fill="#222" stroke="#222" stroke-width="0.0" >0</text>
<line x1="38.80" y1="366.90" x2="38.80" y2="370.30" stroke="#333" stroke-width="0.8"/>
<text x="38.80" y="378.40" font-size="5.5" text-anchor="middle" font-weight="normal" font-style="normal" fill="#222" stroke="#222" stroke-width="0.0" >1</text>
<line x1="49.30" y1="366.90" x2="49.30" y2="370.30" stroke="#333" stroke-width="0.8"/>
<text x="49.30" y="378.40" font-size="5.5" text-anchor="middle" font-weight="normal" font-style="normal" fill="#222" stroke="#222" stroke-width="0.0" >2</text>
<text x="28.80" y="386.80" font-size="5.0" text-anchor="middle" font-weight="normal" font-style="normal" fill="#222" stroke="#222" stroke-width="0.0" >Value</text>
<rect x="58.00" y="397.60" width="12.45" height="21.18" fill="#b9bbdf"/>
<rect x="70.15" y="397.60" width="12.45" height="21.18" fill="#ffffff"/>
<rect x="82.30" y="397.60" width="12.45" height="21.18" fill="#d7d9ed"/>
<rect x="94.45" y="397.60" width="12.45" height="21.18" fill="#555ab2"/>
<rect x="106.60" y="397.60" width="12.45" height="21.18" fill="#d7d9ed"/>
<rect x="118.75" y="397.60" width="12.45" height="21.18" fill="#ffffff"/>
<rect x="130.90" y="397.60" width="12.45" height="21.18" fill="#5b60b5"/>
<rect x="143.05" y="397.60" width="12.45" height="21.18" fill="#fedada"/>
<rect x="155.20" y="397.60" width="12.45" height="21.18" fill="#ffffff"/>
<rect x="167.35" y="397.60" width="12.45" height="21.18" fill="#ffffff"/>
<rect x="179.50" y="397.60" width="12.45" height="21.18" fill="#ed453c"/>
<rect x="191.65" y="397.60" width="12.45" height="21.18" fill="#e61428"/>
<rect x="58.00" y="418.48" width="12.45" height="21.18" fill="#5f64b7"/>
<rect x="70.15" y="418.48" width="12.45" height="21.18" fill="#8285c6"/>
<rect x="82.30" y="418.48" width="12.45" height="21.18" fill="#6569b9"/>
<rect x="94.45" y="418.48" width="12.45" height="21.18" fill="#6569b9"/>
<rect x="106.60" y="418.48" width="12.45" height="21.18" fill="#b9bbdf"/>
<rect x="118.75" y="418.48" width="12.45" height="21.18" fill="#f25952"/>
<rect x="130.90" y="418.48" width="12.45" height="21.18" fill="#ffffff"/>
<rect x="143.05" y="418.48" width="12.45" height="21.18" fill="#ffffff"/>
<rect x="155.20" y="418.48" width="12.45" height="21.18" fill="#f7828c"/>
<rect x="167.35" y="418.48" width="12.45" height="21.18" fill="#f7828c"/>
<rect x="179.50" y="418.48" width="12.45" height="21.18" fill="#f7828c"/>
<rect x="191.65" y="418.48" width="12.45" height="21.18" fill="#f7828c"/>
<rect x="58.00" y="439.36" width="12.45" height="21.18" fill="#c5c7e5"/>
<rect x="70.15" y="439.36" width="12.45" height="21.18" fill="#868ac9"/>
<rect x="82.30" y="439.36" width="12.45" height="21.18" fill="#5b60b5"/>
<rect x="94.45" y="439.36" width="12.45" height="21.18" fill="#6e73be"/>
<rect x="106.60" y="439.36" width="12.45" height="21.18" fill="#e2e3f2"/>
<rect x="118.75" y="439.36" width="12.45" height="21.18" fill="#faacaf"/>
<rect x="130.90" y="439.36" width="12.45" height="21.18" fill="#ffffff"/>
<rect x="143.05" y="439.36" width="12.45" height="21.18" fill="#d8daee"/>
<rect x="155.20" y="439.36" width="12.45" height="21.18" fill="#f7828c"/>
<rect x="167.35" y="439.36" width="12.45" height="21.18" fill="#fbb2b4"/>
<rect x="179.50" y="439.36" width="12.45" height="21.18" fill="#f25952"/>
<rect x="191.65" y="439.36" width="12.45" height="21.18" fill="#ec4238"/>
<rect x="58.00" y="460.24" width="12.45" height="21.18" fill="#868ac9"/>
<rect x="70.15" y="460.24" width="12.45" height="21.18" fill="#868ac9"/>
<rect x="82.30" y="460.24" width="12.45" height="21.18" fill="#868ac9"/>
<rect x="94.45" y="460.24" width="12.45" height="21.18" fill="#5157b1"/>
<rect x="106.60" y="460.24" width="12.45" height="21.18" fill="#bbbee1"/>
<rect x="118.75" y="460.24" width="12.45" height="21.18" fill="#dddef0"/>
<rect x="130.90" y="460.24" width="12.45" height="21.18" fill="#ffe1e1"/>
<rect x="143.05" y="460.24" width="12.45" height="21.18" fill="#ffffff"/>
<rect x="155.20" y="460.24" width="12.45" height="21.18" fill="#fbb2b4"/>
<rect x="167.35" y="460.24" width="12.45" height="21.18" fill="#f7828c"/>
<rect x="179.50" y="460.24" width="12.45" height="21.18" fill="#ec4238"/>
<rect x="191.65" y="460.24" width="12.45" height="21.18" fill="#ec4238"/>
<rect x="58.00" y="481.12" width="12.45" height="21.18" fill="#868ac9"/>
<rect x="70.15" y="481.12" width="12.45" height="21.18" fill="#868ac9"/>
<rect x="82.30" y="481.12" width="12.45" height="21.18" fill="#6065b7"/>
<rect x="94.45" y="481.12" width="12.45" height="21.18" fill="#6e73be"/>
<rect x="106.60" y="481.12" width="12.45" height="21.18" fill="#c0c2e3"/>
<rect x="118.75" y="481.12" width="12.45" height="21.18" fill="#ffffff"/>
<rect x="130.90" y="481.12" width="12.45" height="21.18" fill="#fcb8b9"/>
<rect x="143.05" y="481.12" width="12.45" height="21.18" fill="#fed5d5"/>
<rect x="155.20" y="481.12" width="12.45" height="21.18" fill="#f7828c"/>
<rect x="167.35" y="481.12" width="12.45" height="21.18" fill="#f45f58"/>
<rect x="179.50" y="481.12" width="12.45" height="21.18" fill="#f45f58"/>
<rect x="191.65" y="481.12" width="12.45" height="21.18" fill="#f45f58"/>
<rect x="58.00" y="502.00" width="12.45" height="21.18" fill="#6569b9"/>
<rect x="70.15" y="502.00" width="12.45" height="21.18" fill="#c5c7e5"/>
<rect x="82.30" y="502.00" width="12.45" height="21.18" fill="#868ac9"/>
<rect x="94.45" y="502.00" width="12.45" height="21.18" fill="#868ac9"/>
<rect x="106.60" y="502.00" width="12.45" height="21.18" fill="#c0c2e3"/>
<rect x="118.75" y="502.00" width="12.45" height="21.18" fill="#e61428"/>
<rect x="130.90" y="502.00" width="12.45" height="21.18" fill="#f7828c"/>
<rect x="143.05" y="502.00" width="12.45" height="21.18" fill="#fbb2b4"/>
<rect x="155.20" y="502.00" width="12.45" height="21.18" fill="#d8daee"/>
<rect x="167.35" y="502.00" width="12.45" height="21.18" fill="#ffffff"/>
<rect x="179.50" y="502.00" width="12.45" height="21.18" fill="#fedada"/>
<rect x="191.65" y="502.00" width="12.45" height="21.18" fill="#fcb8b9"/>
<polyline points="64.08,394.60 64.08,386.20 76.22,386.20 76.22,394.60" fill="none" stroke="#2e2e2e" stroke-width="1.35" stroke-linejoin="miter"/>
<polyline points="70.15,386.20 70.15,381.50 88.38,381.50 88.38,394.60" fill="none" stroke="#2e2e2e" stroke-width="1.35" stroke-linejoin="miter"/>
<polyline points="79.26,381.50 79.26,376.50 100.53,376.50 100.53,394.60" fill="none" stroke="#2e2e2e" stroke-width="1.35" stroke-linejoin="miter"/>
<polyline points="89.89,376.50 89.89,372.30 112.68,372.30 112.68,394.60" fill="none" stroke="#2e2e2e" stroke-width="1.35" stroke-linejoin="miter"/>
<polyline points="136.98,394.60 136.98,377.70 149.12,377.70 149.12,394.60" fill="none" stroke="#2e2e2e" stroke-width="1.35" stroke-linejoin="miter"/>
<polyline points="161.28,394.60 161.28,390.80 173.43,390.80 173.43,394.60" fill="none" stroke="#2e2e2e" stroke-width="1.35" stroke-linejoin="miter"/>
<polyline points="143.05,377.70 143.05,369.60 167.35,369.60 167.35,390.80" fill="none" stroke="#2e2e2e" stroke-width="1.35" stroke-linejoin="miter"/>
<polyline points="124.83,394.60 124.83,362.20 155.20,362.20 155.20,369.60" fill="none" stroke="#2e2e2e" stroke-width="1.35" stroke-linejoin="miter"/>
<polyline points="185.57,394.60 185.57,386.70 197.72,386.70 197.72,394.60" fill="none" stroke="#2e2e2e" stroke-width="1.35" stroke-linejoin="miter"/>
<polyline points="140.01,362.20 140.01,348.80 191.65,348.80 191.65,386.70" fill="none" stroke="#2e2e2e" stroke-width="1.35" stroke-linejoin="miter"/>
<polyline points="101.28,372.30 101.28,322.60 165.83,322.60 165.83,348.80" fill="none" stroke="#2e2e2e" stroke-width="1.35" stroke-linejoin="miter"/>
<text x="209.50" y="410.94" font-size="8.3" text-anchor="start" font-weight="normal" font-style="normal" fill="#222" stroke="#222" stroke-width="0.22" >MAFF</text>
<text x="209.50" y="431.82" font-size="8.3" text-anchor="start" font-weight="normal" font-style="normal" fill="#222" stroke="#222" stroke-width="0.22" >DUSP4</text>
<text x="209.50" y="452.70" font-size="8.3" text-anchor="start" font-weight="normal" font-style="normal" fill="#222" stroke="#222" stroke-width="0.22" >ETV4</text>
<text x="209.50" y="473.58" font-size="8.3" text-anchor="start" font-weight="normal" font-style="normal" fill="#222" stroke="#222" stroke-width="0.22" >ETV1</text>
<text x="209.50" y="494.46" font-size="8.3" text-anchor="start" font-weight="normal" font-style="normal" fill="#222" stroke="#222" stroke-width="0.22" >ETV5</text>
<text x="209.50" y="515.34" font-size="8.3" text-anchor="start" font-weight="normal" font-style="normal" fill="#222" stroke="#222" stroke-width="0.22" >DUSP6</text>
<text x="64.38" y="528.80" font-size="6.2" text-anchor="end" font-weight="normal" font-style="normal" fill="#222" stroke="#222" stroke-width="0.14" transform="rotate(-90 64.38 528.80)" >pInd NRAS −dox</text>
<text x="76.52" y="528.80" font-size="6.2" text-anchor="end" font-weight="normal" font-style="normal" fill="#222" stroke="#222" stroke-width="0.14" transform="rotate(-90 76.52 528.80)" >pLCR NF1−2 + Trametinib</text>
<text x="88.67" y="528.80" font-size="6.2" text-anchor="end" font-weight="normal" font-style="normal" fill="#222" stroke="#222" stroke-width="0.14" transform="rotate(-90 88.67 528.80)" >WT</text>
<text x="100.83" y="528.80" font-size="6.2" text-anchor="end" font-weight="normal" font-style="normal" fill="#222" stroke="#222" stroke-width="0.14" transform="rotate(-90 100.83 528.80)" >pLCR NT</text>
<text x="112.98" y="528.80" font-size="6.2" text-anchor="end" font-weight="normal" font-style="normal" fill="#222" stroke="#222" stroke-width="0.14" transform="rotate(-90 112.98 528.80)" >pLCR NF1−4 + Trametinib</text>
<text x="125.12" y="528.80" font-size="6.2" text-anchor="end" font-weight="normal" font-style="normal" fill="#222" stroke="#222" stroke-width="0.14" transform="rotate(-90 125.12 528.80)" >pInd NRAS +dox</text>
<text x="137.28" y="528.80" font-size="6.2" text-anchor="end" font-weight="normal" font-style="normal" fill="#222" stroke="#222" stroke-width="0.14" transform="rotate(-90 137.28 528.80)" >pLCR NF1−2</text>
<text x="149.43" y="528.80" font-size="6.2" text-anchor="end" font-weight="normal" font-style="normal" fill="#222" stroke="#222" stroke-width="0.14" transform="rotate(-90 149.43 528.80)" >pLCR NF1−4</text>
<text x="161.58" y="528.80" font-size="6.2" text-anchor="end" font-weight="normal" font-style="normal" fill="#222" stroke="#222" stroke-width="0.14" transform="rotate(-90 161.58 528.80)" >pLCR CIC1 + Trametinib</text>
<text x="173.73" y="528.80" font-size="6.2" text-anchor="end" font-weight="normal" font-style="normal" fill="#222" stroke="#222" stroke-width="0.14" transform="rotate(-90 173.73 528.80)" >pLCR CIC2 + Trametinib</text>
<text x="185.88" y="528.80" font-size="6.2" text-anchor="end" font-weight="normal" font-style="normal" fill="#222" stroke="#222" stroke-width="0.14" transform="rotate(-90 185.88 528.80)" >pLCR CIC1</text>
<text x="198.03" y="528.80" font-size="6.2" text-anchor="end" font-weight="normal" font-style="normal" fill="#222" stroke="#222" stroke-width="0.14" transform="rotate(-90 198.03 528.80)" >pLCR CIC2</text>
<line x1="57.70" y1="608.20" x2="117.20" y2="608.20" stroke="#444" stroke-width="1.1"/>
<line x1="121.80" y1="608.20" x2="201.40" y2="608.20" stroke="#444" stroke-width="1.1"/>
<text x="87.60" y="618.00" font-size="7.4" text-anchor="middle" font-weight="normal" font-style="normal" fill="#333" stroke="#333" stroke-width="0.08" textLength="35.6" lengthAdjust="spacingAndGlyphs">RAS–MAPK</text>
<text x="87.50" y="627.00" font-size="7.4" text-anchor="middle" font-weight="normal" font-style="normal" fill="#333" stroke="#333" stroke-width="0.08" >inactive</text>
<text x="161.50" y="618.00" font-size="7.4" text-anchor="middle" font-weight="normal" font-style="normal" fill="#333" stroke="#333" stroke-width="0.08" textLength="35.6" lengthAdjust="spacingAndGlyphs">RAS–MAPK</text>
<text x="161.50" y="627.00" font-size="7.4" text-anchor="middle" font-weight="normal" font-style="normal" fill="#333" stroke="#333" stroke-width="0.08" >active</text>
<text x="263.00" y="302.50" font-size="13" text-anchor="start" font-weight="bold" font-style="normal" fill="#111" stroke="#111" stroke-width="0.3" >D</text>
<line x1="304.40" y1="308.80" x2="304.40" y2="415.20" stroke="#222" stroke-width="1.1"/>
<line x1="304.40" y1="414.70" x2="463.10" y2="414.70" stroke="#222" stroke-width="1.1"/>
<line x1="301.90" y1="414.70" x2="304.40" y2="414.70" stroke="#222" stroke-width="1.0"/>
<text x="301.20" y="417.10" font-size="6.6" text-anchor="end" font-weight="normal" font-style="normal" fill="#222" stroke="#222" stroke-width="0.22" >0</text>
<line x1="301.90" y1="366.98" x2="304.40" y2="366.98" stroke="#222" stroke-width="1.0"/>
<text x="301.20" y="369.38" font-size="6.6" text-anchor="end" font-weight="normal" font-style="normal" fill="#222" stroke="#222" stroke-width="0.22" >50</text>
<line x1="301.90" y1="319.25" x2="304.40" y2="319.25" stroke="#222" stroke-width="1.0"/>
<text x="301.20" y="321.65" font-size="6.6" text-anchor="end" font-weight="normal" font-style="normal" fill="#222" stroke="#222" stroke-width="0.22" >100</text>
<line x1="304.40" y1="414.70" x2="304.40" y2="417.30" stroke="#222" stroke-width="1.0"/>
<text x="304.40" y="425.50" font-size="6.6" text-anchor="middle" font-weight="normal" font-style="normal" fill="#222" stroke="#222" stroke-width="0.22" >0</text>
<line x1="357.30" y1="414.70" x2="357.30" y2="417.30" stroke="#222" stroke-width="1.0"/>
<text x="357.30" y="425.50" font-size="6.6" text-anchor="middle" font-weight="normal" font-style="normal" fill="#222" stroke="#222" stroke-width="0.22" >20</text>
<line x1="410.20" y1="414.70" x2="410.20" y2="417.30" stroke="#222" stroke-width="1.0"/>
<text x="410.20" y="425.50" font-size="6.6" text-anchor="middle" font-weight="normal" font-style="normal" fill="#222" stroke="#222" stroke-width="0.22" >40</text>
<line x1="463.10" y1="414.70" x2="463.10" y2="417.30" stroke="#222" stroke-width="1.0"/>
<text x="463.10" y="425.50" font-size="6.6" text-anchor="middle" font-weight="normal" font-style="normal" fill="#222" stroke="#222" stroke-width="0.22" >60</text>
<polyline points="304.40,319.25 378.46,319.25 378.46,357.43 386.39,357.43 386.39,376.52 396.97,376.52 396.97,414.70" fill="none" stroke="#2f4f9e" stroke-width="1.3" stroke-linejoin="miter"/>
<line x1="386.39" y1="355.83" x2="386.39" y2="358.03" stroke="#222" stroke-width="1.2"/>
<polyline points="304.40,319.25 386.39,319.25 386.39,338.34 404.91,338.34 404.91,376.52 415.49,376.52 415.49,395.61 439.29,395.61" fill="none" stroke="#6db552" stroke-width="1.3" stroke-linejoin="miter"/>
<line x1="386.39" y1="336.74" x2="386.39" y2="338.94" stroke="#222" stroke-width="1.2"/>
<line x1="439.29" y1="394.01" x2="439.29" y2="396.21" stroke="#222" stroke-width="1.2"/>
<text x="382.80" y="299.60" font-size="8.6" text-anchor="middle" font-weight="bold" font-style="normal" fill="#111" stroke="#111" stroke-width="0.3" >NRAS Q61V</text>
<text x="284.60" y="362.68" font-size="8.2" text-anchor="middle" font-weight="normal" font-style="normal" fill="#222" stroke="#222" stroke-width="0.22" transform="rotate(-90 284.60 362.68)" >Percent survival</text>
<text x="383.60" y="435.30" font-size="7.2" text-anchor="middle" font-weight="normal" font-style="normal" fill="#222" stroke="#222" stroke-width="0.22" >Days</text>
<line x1="445.00" y1="317.30" x2="456.80" y2="317.30" stroke="#6db552" stroke-width="1.3"/>
<line x1="450.90" y1="315.80" x2="450.90" y2="317.30" stroke="#222" stroke-width="1.0"/>
<text x="462.60" y="320.20" font-size="8.3" text-anchor="start" font-weight="normal" font-style="normal" fill="#222" stroke="#222" stroke-width="0.22" textLength="57.5" lengthAdjust="spacingAndGlyphs">pInd NRAS –dox</text>
<line x1="445.00" y1="331.30" x2="456.80" y2="331.30" stroke="#2f4f9e" stroke-width="1.3"/>
<line x1="450.90" y1="329.80" x2="450.90" y2="331.30" stroke="#222" stroke-width="1.0"/>
<text x="462.60" y="334.20" font-size="8.3" text-anchor="start" font-weight="normal" font-style="normal" fill="#222" stroke="#222" stroke-width="0.22" textLength="57.5" lengthAdjust="spacingAndGlyphs">pInd NRAS +dox</text>
<rect x="307.3" y="398.0" width="46.2" height="13.8" fill="#fff" stroke="#222" stroke-width="1.3"/>
<text x="310.00" y="408.40" font-size="8.4" fill="#111" stroke="#111" stroke-width="0.2"><tspan font-style="italic">P</tspan> = 0.0281</text>
<line x1="304.30" y1="469.40" x2="304.30" y2="575.50" stroke="#222" stroke-width="1.1"/>
<line x1="304.30" y1="575.00" x2="462.60" y2="575.00" stroke="#222" stroke-width="1.1"/>
<line x1="301.80" y1="575.00" x2="304.30" y2="575.00" stroke="#222" stroke-width="1.0"/>
<text x="301.10" y="577.40" font-size="6.6" text-anchor="end" font-weight="normal" font-style="normal" fill="#222" stroke="#222" stroke-width="0.22" >0</text>
<line x1="301.80" y1="527.10" x2="304.30" y2="527.10" stroke="#222" stroke-width="1.0"/>
<text x="301.10" y="529.50" font-size="6.6" text-anchor="end" font-weight="normal" font-style="normal" fill="#222" stroke="#222" stroke-width="0.22" >50</text>
<line x1="301.80" y1="479.20" x2="304.30" y2="479.20" stroke="#222" stroke-width="1.0"/>
<text x="301.10" y="481.60" font-size="6.6" text-anchor="end" font-weight="normal" font-style="normal" fill="#222" stroke="#222" stroke-width="0.22" >100</text>
<line x1="304.30" y1="575.00" x2="304.30" y2="577.60" stroke="#222" stroke-width="1.0"/>
<text x="304.30" y="585.80" font-size="6.6" text-anchor="middle" font-weight="normal" font-style="normal" fill="#222" stroke="#222" stroke-width="0.22" >0</text>
<line x1="335.96" y1="575.00" x2="335.96" y2="577.60" stroke="#222" stroke-width="1.0"/>
<text x="335.96" y="585.80" font-size="6.6" text-anchor="middle" font-weight="normal" font-style="normal" fill="#222" stroke="#222" stroke-width="0.22" >10</text>
<line x1="367.62" y1="575.00" x2="367.62" y2="577.60" stroke="#222" stroke-width="1.0"/>
<text x="367.62" y="585.80" font-size="6.6" text-anchor="middle" font-weight="normal" font-style="normal" fill="#222" stroke="#222" stroke-width="0.22" >20</text>
<line x1="399.28" y1="575.00" x2="399.28" y2="577.60" stroke="#222" stroke-width="1.0"/>
<text x="399.28" y="585.80" font-size="6.6" text-anchor="middle" font-weight="normal" font-style="normal" fill="#222" stroke="#222" stroke-width="0.22" >30</text>
<line x1="430.94" y1="575.00" x2="430.94" y2="577.60" stroke="#222" stroke-width="1.0"/>
<text x="430.94" y="585.80" font-size="6.6" text-anchor="middle" font-weight="normal" font-style="normal" fill="#222" stroke="#222" stroke-width="0.22" >40</text>
<line x1="462.60" y1="575.00" x2="462.60" y2="577.60" stroke="#222" stroke-width="1.0"/>
<text x="462.60" y="585.80" font-size="6.6" text-anchor="middle" font-weight="normal" font-style="normal" fill="#222" stroke="#222" stroke-width="0.22" >50</text>
<polyline points="304.30,479.20 358.12,479.20 358.12,527.10 370.79,527.10 370.79,543.10 380.28,543.10 380.28,559.00 424.61,559.00" fill="none" stroke="#1e1e1e" stroke-width="1.5" stroke-linejoin="miter"/>
<polyline points="304.30,479.20 392.95,479.20 392.95,527.10 415.11,527.10 415.11,543.10 424.61,543.10 424.61,559.00 446.77,559.00 446.77,575.00" fill="none" stroke="#6db552" stroke-width="1.3" stroke-linejoin="miter"/>
<line x1="392.95" y1="525.50" x2="392.95" y2="527.70" stroke="#222" stroke-width="1.2"/>
<line x1="415.11" y1="541.50" x2="415.11" y2="543.70" stroke="#222" stroke-width="1.2"/>
<text x="382.80" y="455.20" font-size="8.6" text-anchor="middle" font-weight="bold" font-style="normal" fill="#111" stroke="#111" stroke-width="0.3" >CIC</text>
<text x="284.60" y="522.80" font-size="8.2" text-anchor="middle" font-weight="normal" font-style="normal" fill="#222" stroke="#222" stroke-width="0.22" transform="rotate(-90 284.60 522.80)" >Percent survival</text>
<text x="383.60" y="596.40" font-size="7.2" text-anchor="middle" font-weight="normal" font-style="normal" fill="#222" stroke="#222" stroke-width="0.22" >Days</text>
<line x1="445.00" y1="477.00" x2="456.80" y2="477.00" stroke="#6db552" stroke-width="1.3"/>
<line x1="450.90" y1="475.50" x2="450.90" y2="477.00" stroke="#222" stroke-width="1.0"/>
<text x="462.60" y="479.90" font-size="8.3" text-anchor="start" font-weight="normal" font-style="normal" fill="#222" stroke="#222" stroke-width="0.22" textLength="29.4" lengthAdjust="spacingAndGlyphs">pLCR NT</text>
<line x1="445.00" y1="491.90" x2="456.80" y2="491.90" stroke="#1e1e1e" stroke-width="1.3"/>
<line x1="450.90" y1="490.40" x2="450.90" y2="491.90" stroke="#222" stroke-width="1.0"/>
<text x="462.60" y="494.80" font-size="8.3" text-anchor="start" font-weight="normal" font-style="normal" fill="#222" stroke="#222" stroke-width="0.22" textLength="31.2" lengthAdjust="spacingAndGlyphs">pLCR CIC</text>
<rect x="308.0" y="559.5" width="45.5" height="13.2" fill="#fff" stroke="#222" stroke-width="1.3"/>
<text x="310.70" y="569.30" font-size="8.4" fill="#111" stroke="#111" stroke-width="0.2"><tspan font-style="italic">P</tspan> = 0.0317</text>
</g></svg>
</body></html>
